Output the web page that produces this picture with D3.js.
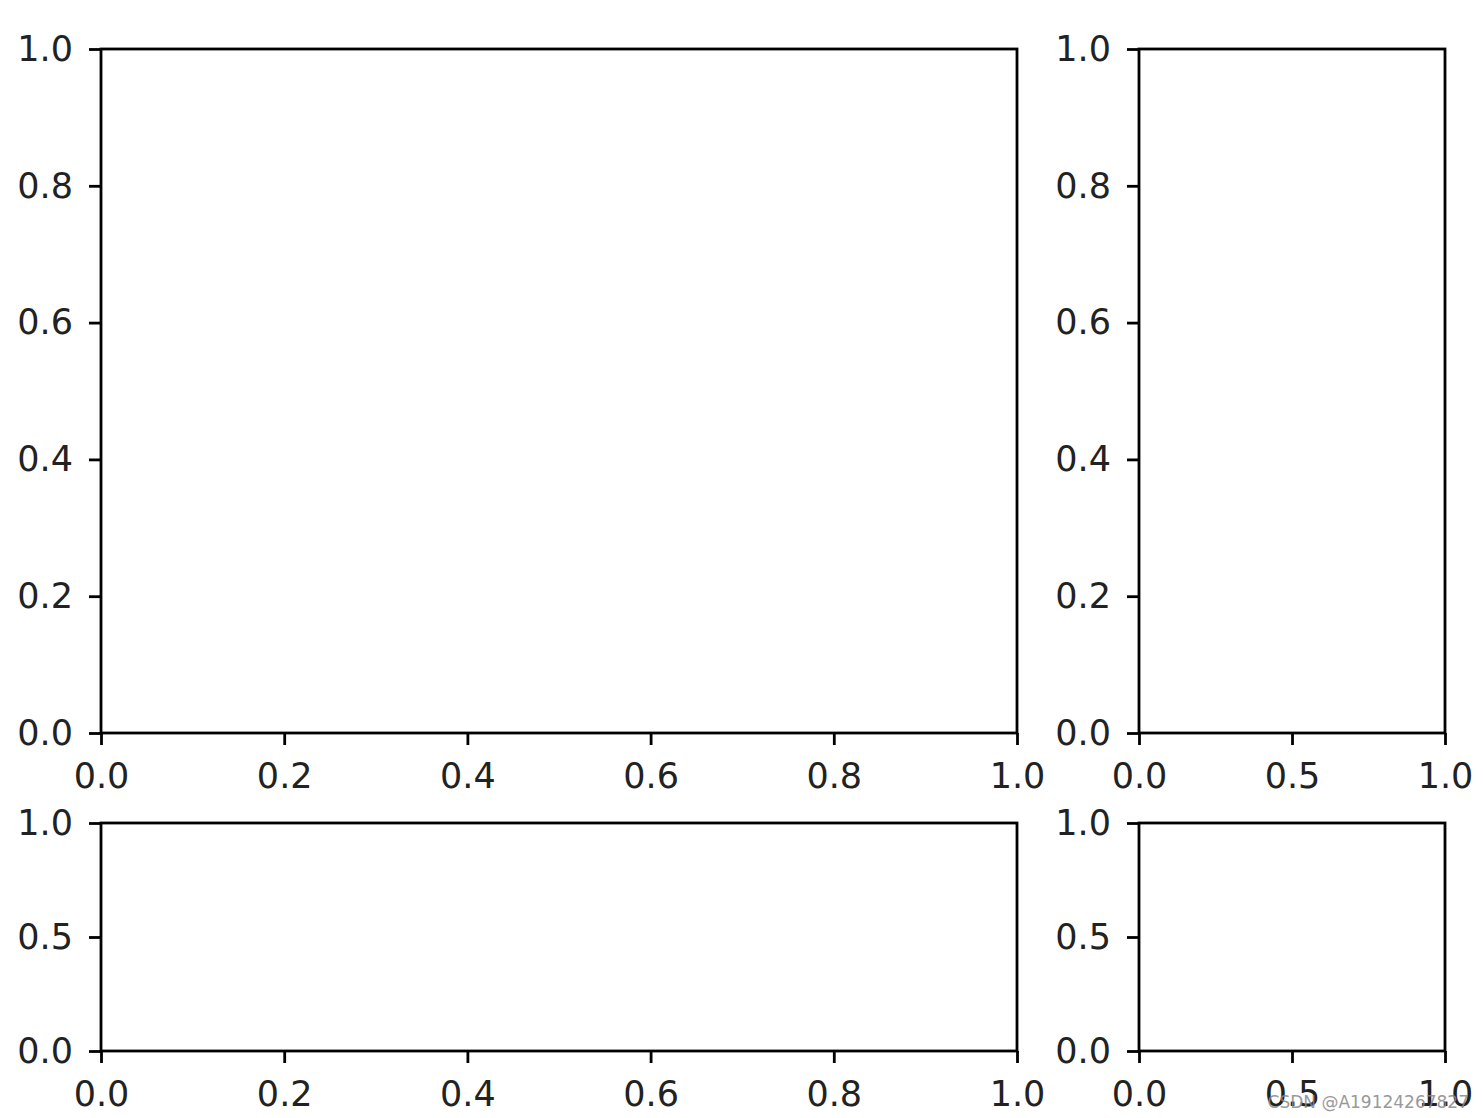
<!DOCTYPE html>
<html>

<head>
  <title>subplot grid</title>
  <script type="text/javascript" src="https://cdn.jsdelivr.net/npm/d3@7"></script>
  <style>
    body { margin: 0; background: #fff; }
  </style>
</head>

<body>
  <script type="text/javascript">
    // Width og height
    const w = 1483;
    const h = 1118;

    // Tick values per panel
    const wideXTicks = [0, 0.2, 0.4, 0.6, 0.8, 1.0];
    const narrowXTicks = [0, 0.5, 1.0];
    const tallYTicks = [0, 0.2, 0.4, 0.6, 0.8, 1.0];
    const shortYTicks = [0, 0.5, 1.0];
    const watermark = "CSDN @A19124267827";

    // Panels: [left, top, right, bottom] in pixels
    const panels = [
      { box: [101, 49, 1017, 733], xt: wideXTicks, yt: tallYTicks },
      { box: [1139, 49, 1445, 733], xt: narrowXTicks, yt: tallYTicks },
      { box: [101, 823, 1017, 1051], xt: wideXTicks, yt: shortYTicks },
      { box: [1139, 823, 1445, 1051], xt: narrowXTicks, yt: shortYTicks }
    ];

    const svg = d3.select("body")
      .append("svg")
      .attr("width", w)
      .attr("height", h);

    const fmt = d3.format(".1f");
    const tickLen = 12;
    const lw = 2.8;

    panels.forEach(function (p) {
      const [x0, y0, x1, y1] = p.box;
      const xScale = d3.scaleLinear().domain([0, 1]).range([x0, x1]);
      const yScale = d3.scaleLinear().domain([0, 1]).range([y1, y0]);

      const xAxis = svg.append("g")
        .attr("transform", "translate(0," + y1 + ")")
        .call(d3.axisBottom(xScale).tickValues(p.xt).tickFormat(fmt)
          .tickSize(tickLen).tickPadding(18).tickSizeOuter(0));

      const yAxis = svg.append("g")
        .attr("transform", "translate(" + x0 + ",0)")
        .call(d3.axisLeft(yScale).tickValues(p.yt).tickFormat(fmt)
          .tickSize(tickLen).tickPadding(16).tickSizeOuter(0));

      [xAxis, yAxis].forEach(function (a) {
        a.select(".domain").remove();
        a.selectAll("line").attr("stroke", "#000").attr("stroke-width", lw);
        a.selectAll("text")
          .attr("fill", "#222")
          .style("font-family", "DejaVu Sans")
          .style("font-size", "35px");
      });

      // Spines
      svg.append("rect")
        .attr("x", x0)
        .attr("y", y0)
        .attr("width", x1 - x0)
        .attr("height", y1 - y0)
        .attr("fill", "none")
        .attr("stroke", "#000")
        .attr("stroke-width", lw);
    });

    // Watermark
    svg.append("text")
      .attr("x", 1469)
      .attr("y", 1108)
      .attr("text-anchor", "end")
      .style("font-family", "DejaVu Sans")
      .style("font-size", "17px")
      .attr("fill", "#888")
      .attr("opacity", 0.85)
      .text(watermark);
  </script>
</body>

</html>
